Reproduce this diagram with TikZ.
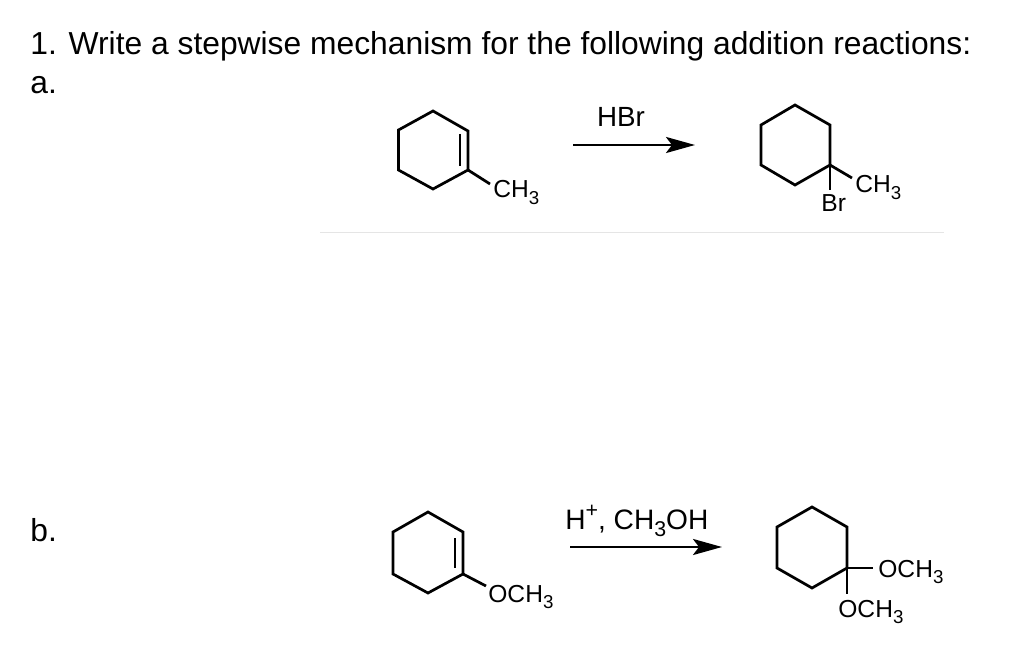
\documentclass[tikz,border=0pt]{standalone}
\usepackage{fontspec}
\usepackage{graphicx}
\setmainfont{Liberation Sans}
\usetikzlibrary{arrows.meta}

\newcommand{\threesub}{\raisebox{-0.27em}{\scalebox{0.76}{3}}}
\newcommand{\plussup}{\raisebox{0.42em}{\scalebox{0.76}{+}}}

\tikzset{
    bond/.style={draw, line width=1.55pt, line join=miter},
    reaction/.style={draw, line width=1.55pt, -{Stealth[length=0.58cm, width=0.32cm, inset=0.12cm]}},
    heading/.style={anchor=base west, inner sep=0pt, font=\fontsize{18.1}{22}\selectfont},
    reagent/.style={inner sep=0pt, font=\fontsize{15.8}{18}\selectfont},
    group/.style={anchor=base west, inner sep=0pt, font=\fontsize{14}{16}\selectfont},
}

\begin{document}
\begin{tikzpicture}[x=0.02cm, y=-0.02cm]
    \useasboundingbox (0,0) rectangle (1024,665);
    \fill[white] (0,0) rectangle (1024,665);

    \node [heading] (title) at (30,55) {1. Write a stepwise mechanism for the following addition reactions:};
    \node [heading] (parta) at (30,94) {a.};
    \node [heading] (partb) at (30,541) {b.};

    % faint rule under part a
    \coordinate (r1) at (320,232.5);
    \coordinate (r2) at (944,232.5);
    \draw [black!10, line width=0.4pt] (r1) -- (r2);

    % part a, reactant
    \begin{scope}
        \coordinate (a1) at (433,111);
        \coordinate (a2) at (468,131);
        \coordinate (a3) at (468,170);
        \coordinate (a4) at (433,189);
        \coordinate (a5) at (398.5,170);
        \coordinate (a6) at (398.5,130);
        \coordinate (a7) at (490,184);
        \coordinate (a8) at (460,134);
        \coordinate (a9) at (460,166);
        \node [group] (ach) at (493,198) {CH\threesub};
        \path [bond] (a1) -- (a2) -- (a3) -- (a4) -- (a5) -- (a6) -- cycle;
        \path [bond] (a3) -- (a7);
        \path [bond] (a8) -- (a9);
    \end{scope}

    % part a, arrow
    \coordinate (ar1) at (573,145);
    \coordinate (ar2) at (695,145);
    \path [reaction] (ar1) -- (ar2);
    \node [reagent] (hbr) at (621,117) {HBr};

    % part a, product
    \begin{scope}
        \coordinate (b1) at (795,105);
        \coordinate (b2) at (830,125);
        \coordinate (b3) at (830,165);
        \coordinate (b4) at (795,185);
        \coordinate (b5) at (761,165);
        \coordinate (b6) at (761,125);
        \coordinate (b7) at (852,178);
        \coordinate (b8) at (830,190);
        \node [group] (bch) at (855,193) {CH\threesub};
        \node [group] (bbr) at (821,212) {Br};
        \path [bond] (b1) -- (b2) -- (b3) -- (b4) -- (b5) -- (b6) -- cycle;
        \path [bond] (b3) -- (b7);
        \path [bond] (b3) -- (b8);
    \end{scope}

    % part b, reactant
    \begin{scope}
        \coordinate (c1) at (428,512);
        \coordinate (c2) at (463,532);
        \coordinate (c3) at (463,574);
        \coordinate (c4) at (428,593);
        \coordinate (c5) at (393,574);
        \coordinate (c6) at (393,532);
        \coordinate (c7) at (486,586);
        \coordinate (c8) at (455,538);
        \coordinate (c9) at (455,568);
        \node [group] (coch) at (488,602) {OCH\threesub};
        \path [bond] (c1) -- (c2) -- (c3) -- (c4) -- (c5) -- (c6) -- cycle;
        \path [bond] (c3) -- (c7);
        \path [bond] (c8) -- (c9);
    \end{scope}

    % part b, arrow
    \coordinate (br1) at (570,547);
    \coordinate (br2) at (722,547);
    \path [reaction] (br1) -- (br2);
    \node [reagent, anchor=base west, font=\fontsize{16}{18}\selectfont] (acid) at (565,529) {H\plussup, CH\threesub OH};

    % part b, product
    \begin{scope}
        \coordinate (d1) at (812,507);
        \coordinate (d2) at (847,527);
        \coordinate (d3) at (847,568);
        \coordinate (d4) at (812,588);
        \coordinate (d5) at (777,568);
        \coordinate (d6) at (777,527);
        \coordinate (d7) at (873,568);
        \coordinate (d8) at (847,594);
        \node [group] (doch) at (878,577) {OCH\threesub};
        \node [group] (dochb) at (838,617) {OCH\threesub};
        \path [bond] (d1) -- (d2) -- (d3) -- (d4) -- (d5) -- (d6) -- cycle;
        \path [bond] (d3) -- (d7);
        \path [bond] (d3) -- (d8);
    \end{scope}
\end{tikzpicture}
\end{document}
